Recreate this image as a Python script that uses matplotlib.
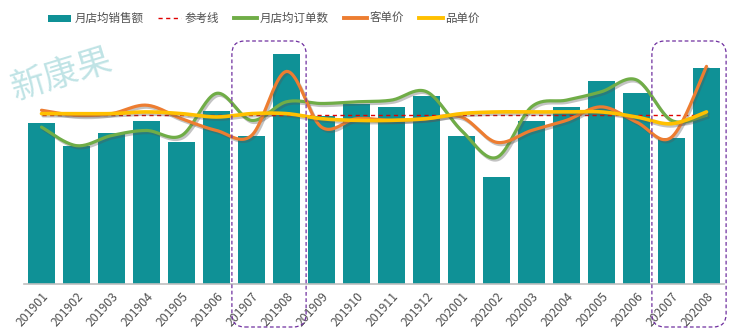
import numpy as np
import matplotlib
matplotlib.use("Agg")
import matplotlib.pyplot as plt
from matplotlib import patches, patheffects
from matplotlib.transforms import IdentityTransform

plt.rcParams['font.family'] = ['Noto Sans CJK SC', 'DejaVu Sans']

# 数据
months = ["201901", "201902", "201903", "201904", "201905", "201906", "201907", "201908",
          "201909", "201910", "201911", "201912", "202001", "202002", "202003", "202004",
          "202005", "202006", "202007", "202008"]
sales = [16.1, 13.8, 15.1, 16.3, 14.2, 17.3, 14.8, 23.0, 16.8, 18.0,
         17.7, 18.8, 14.8, 10.7, 16.3, 17.7, 20.3, 19.1, 14.6, 21.6]
orders = [0.93, 0.82, 0.88, 0.91, 0.88, 1.13, 0.97, 1.08, 1.07, 1.08,
          1.09, 1.14, 0.91, 0.75, 1.05, 1.09, 1.14, 1.21, 0.97, 1.00]
ticket = [1.03, 1.00, 1.01, 1.06, 0.98, 0.91, 0.88, 1.26, 0.93, 0.98,
          0.97, 0.98, 0.99, 0.84, 0.91, 0.97, 1.05, 0.96, 0.87, 1.29]
item_price = [1.01, 1.01, 1.01, 1.02, 1.01, 0.99, 1.01, 1.01, 0.98, 0.97,
              0.97, 0.98, 1.01, 1.02, 1.02, 1.02, 1.02, 0.99, 0.95, 1.02]
ref = 1.0
highlight = [(6, 7), (18, 19)]


def smooth(xs, ys, n=24):
    # 类似 Excel 平滑线的贝塞尔曲线
    pts = np.column_stack([xs, ys]).astype(float)
    pts = np.vstack([pts[0], pts, pts[-1]])
    t = np.linspace(0, 1, n)[:, None]
    out = []
    for i in range(1, len(pts) - 2):
        p0, p1, p2, p3 = pts[i - 1], pts[i], pts[i + 1], pts[i + 2]
        c1 = p1 + (p2 - p0) / 6
        c2 = p2 - (p3 - p1) / 6
        seg = (1 - t) ** 3 * p1 + 3 * (1 - t) ** 2 * t * c1 + 3 * (1 - t) * t ** 2 * c2 + t ** 3 * p2
        out.append(seg if i == 1 else seg[1:])
    out = np.vstack(out)
    return out[:, 0], out[:, 1]


fig = plt.figure(figsize=(7.4, 3.35), dpi=100)
ax = fig.add_axes([24 / 740, 51 / 335, 700 / 740, 254 / 335])
x = np.arange(len(months))

bars = ax.bar(x, sales, width=0.77, color="#0f9196", label="月店均销售额", zorder=2)
ax.set_xlim(-0.5, len(months) - 0.5)
ax.set_ylim(0, 25.4)
ax.set_yticks([])
ax.set_xticks(x)
ax.set_xticklabels(months, rotation=48, ha="right", rotation_mode="anchor",
                   fontsize=8.8, color="#505050")
ax.tick_params(axis="x", length=0, pad=4)
for s in ["top", "right", "left"]:
    ax.spines[s].set_visible(False)
ax.spines["bottom"].set_color("#bfbfbf")
ax.spines["bottom"].set_linewidth(1.2)

ax2 = ax.twinx()
ax2.set_ylim(0, 1.5056)
ax2.set_yticks([])
for s in ax2.spines.values():
    s.set_visible(False)

ref_line, = ax2.plot([x[0], x[-1]], [ref, ref], color="#e00000", lw=1.0,
                     ls=(0, (3, 2.5)), label="参考线", zorder=3)

shadow = [patheffects.SimpleLineShadow(offset=(1.2, -1.5), shadow_color="#555555", alpha=0.35),
          patheffects.Normal()]
series = [(orders, "#70ad47", "月店均订单数", 2.3),
          (ticket, "#ed7d31", "客单价", 2.3),
          (item_price, "#ffc000", "品单价", 2.6)]
handles = [bars, ref_line]
for vals, col, name, lw in series:
    sx, sy = smooth(x, vals)
    ax2.plot(sx, sy, color=col, lw=lw, label=name, solid_capstyle="round",
             path_effects=shadow, zorder=4)
    handles.append(plt.Line2D([], [], color=col, lw=2.8, label=name))

leg = fig.legend(handles=handles, loc="center", bbox_to_anchor=(0.357, 0.944), ncol=5,
                 frameon=False, fontsize=8.3, handlelength=2.0, handletextpad=0.26,
                 columnspacing=1.3, handleheight=0.6)
for t in leg.get_texts():
    t.set_color("#505050")

# 水印
fig.text(62 / 740, 1 - 75 / 335, "新康果", fontsize=25, color="#b5dfe1", alpha=0.85,
         rotation=17, ha="center", va="center", zorder=0)

# 虚线圆角框
fig.canvas.draw()
for a, b in highlight:
    x0 = ax.transData.transform((a - 0.56, 0))[0]
    x1 = ax.transData.transform((b + 0.56, 0))[0]
    box = patches.FancyBboxPatch((x0, 8), x1 - x0, 286,
                                 boxstyle="round,pad=0,rounding_size=13",
                                 fill=False, edgecolor="#7030a0", lw=0.9,
                                 ls=(0, (3, 2)), transform=IdentityTransform(), zorder=10)
    fig.add_artist(box)

fig.savefig("out.png", dpi=100)
